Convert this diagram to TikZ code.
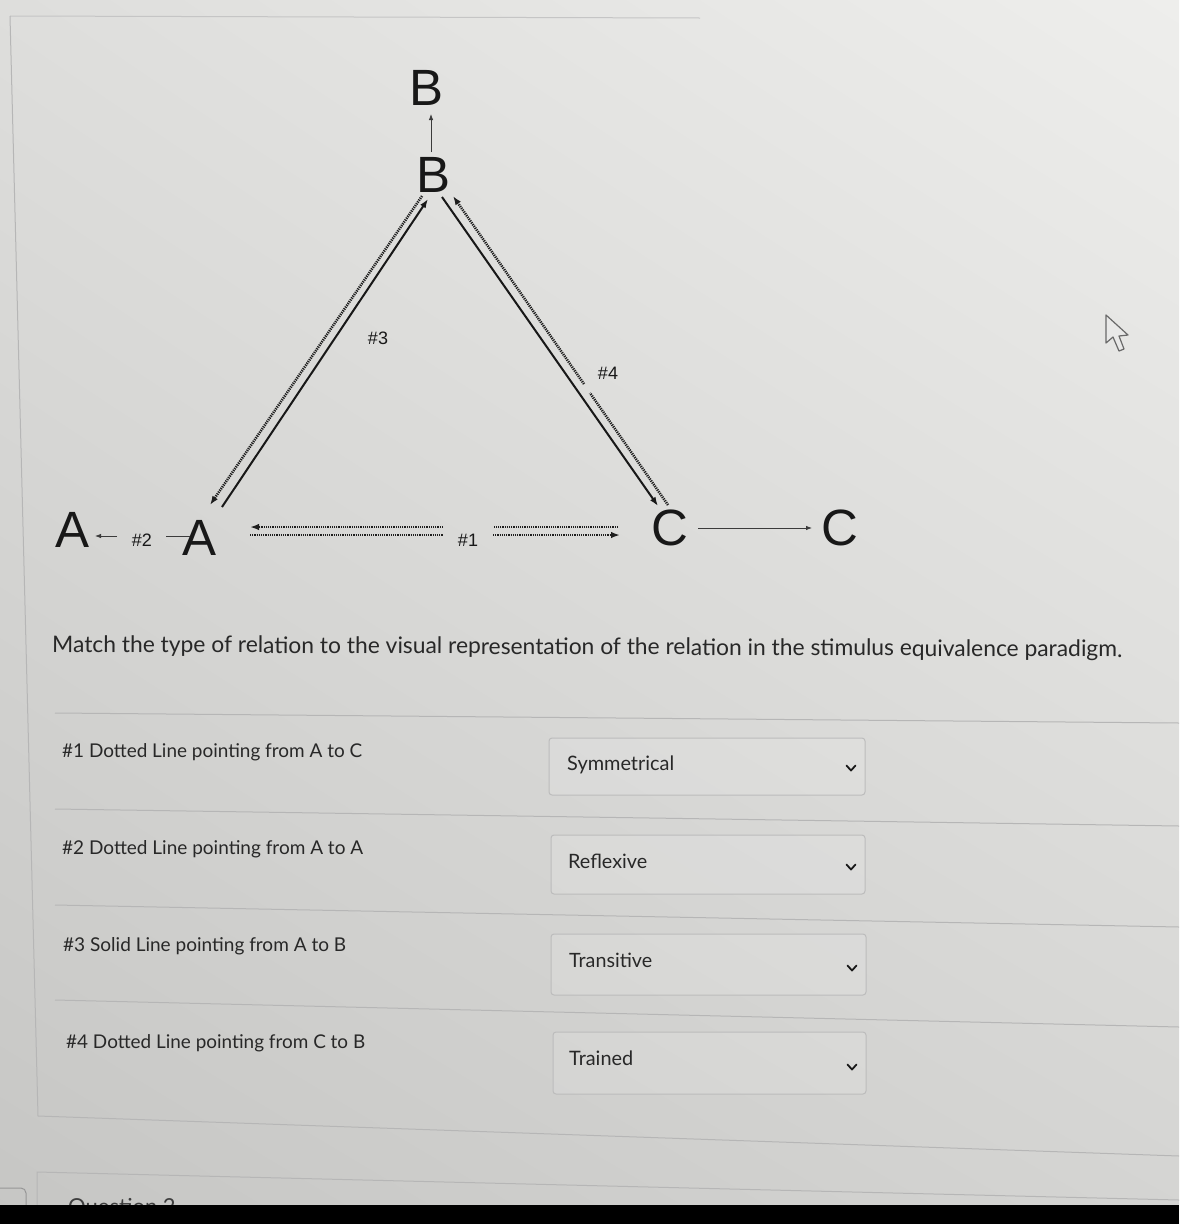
\documentclass[tikz,border=0pt]{standalone}
\usepackage{fontspec}
\setmainfont{Lato}
\newfontfamily\arialf{Liberation Sans}
\usetikzlibrary{arrows.meta,shadings}
\definecolor{bgUL}{RGB}{222,222,220}
\definecolor{bgUR}{RGB}{238,238,236}
\definecolor{bgLL}{RGB}{198,198,196}
\definecolor{bgLR}{RGB}{212,212,210}
\definecolor{ink}{RGB}{24,24,24}
\definecolor{txtg}{RGB}{40,40,40}
\definecolor{sepc}{RGB}{182,182,182}
\definecolor{boxc}{RGB}{188,188,188}
\definecolor{dotc}{RGB}{30,30,30}
\definecolor{curc}{RGB}{105,105,105}
\newcommand\fitw[2]{\resizebox{#1}{!}{#2}}
\begin{document}
\begin{tikzpicture}[x=1pt,y=-1pt,
  letter/.style={inner sep=0pt, text=ink, font=\arialf\fontsize{51}{58}\selectfont},
  lab/.style={inner sep=0pt, text=ink, font=\arialf\fontsize{18}{22}\selectfont},
  qtxt/.style={anchor=base west, inner sep=0pt, text=txtg},
  solidl/.style={draw=ink, line width=2pt, -{Latex[length=9pt,width=6.5pt]}},
  dotl/.style={draw=dotc, line width=2.6pt, dash pattern=on 1.2pt off 1pt},
  dota/.style={dotl, -{Latex[length=9pt,width=6.5pt]}},
  thinarrow/.style={draw=ink!85, line width=0.8pt, -{Latex[length=6pt,width=4.5pt]}},
  thinline/.style={draw=ink!85, line width=0.8pt},
  sepl/.style={draw=sepc, line width=1pt},
  ddbox/.style={draw=boxc, line width=1pt, rounded corners=3pt, fill=white, fill opacity=0.12},
  chev/.style={draw=ink, line width=1.8pt, line cap=round, line join=round}]
\useasboundingbox (0,0) rectangle (1179,1224);
% background
\shade[upper left=bgUL, upper right=bgUR, lower left=bgLL, lower right=bgLR] (0,0) rectangle (1179,1224);
% page frame lines
\draw[sepl, draw=sepc!80] (10,16) -- (700,18);
\draw[sepl] (10,16) -- (38,1116);
\draw[sepl] (55,713) -- (1179,723);
\draw[sepl] (55,809) -- (1179,826);
\draw[sepl] (55,905) -- (1179,927);
\draw[sepl] (55,1000) -- (1179,1027);
\draw[sepl] (38,1116) -- (1179,1156);
\draw[sepl] (37,1205) -- (37,1172) -- (1179,1200);
\draw[sepl, draw=curc!70, rounded corners=5pt] (-10,1188) -- (26,1188) -- (26,1215);

% diagram letters
\node[letter] (Btop) at (427,88) {B};
\node[letter] (Bmid) at (434,175) {B};
\node[letter] (Aleft) at (73,530) {A};
\node[letter] (Amid) at (200,538) {A};
\node[letter] (Cmid) at (670,528) {C};
\node[letter] (Cright) at (840,528) {C};
% labels
\node[lab] (h3) at (378,338) {\#3};
\node[lab] (h4) at (608,373) {\#4};
\node[lab] (h1) at (468,540) {\#1};
\node[lab] (h2) at (142,540) {\#2};

% reflexive arrows
\coordinate (bb1) at (431,152); \coordinate (bb2) at (431,114);
\draw[thinarrow] (bb1) -- (bb2);
\coordinate (aa1) at (190,536); \coordinate (aa2) at (166,536);
\coordinate (aa3) at (117,536); \coordinate (aa4) at (95,536);
\draw[thinline] (aa1) -- (aa2);
\draw[thinarrow] (aa3) -- (aa4);
\coordinate (cc1) at (698,528); \coordinate (cc2) at (812,528);
\draw[thinarrow] (cc1) -- (cc2);

% left side A-B
\coordinate (ls1) at (222,507); \coordinate (ls2) at (428,199);
\draw[solidl] (ls1) -- (ls2);
\coordinate (ld1) at (422,196); \coordinate (ld2) at (210,505);
\draw[dota] (ld1) -- (ld2);
% right side B-C
\coordinate (rs1) at (442,197); \coordinate (rs2) at (658,506);
\draw[solidl] (rs1) -- (rs2);
\coordinate (rd1) at (668,505); \coordinate (rd2) at (590,393);
\coordinate (rd3) at (584,384); \coordinate (rd4) at (453,196);
\draw[dotl] (rd1) -- (rd2);
\draw[dota] (rd3) -- (rd4);
% bottom A-C
\coordinate (bu1) at (443,527); \coordinate (bu2) at (250,527);
\coordinate (bl1) at (250,535); \coordinate (bl2) at (443,535);
\coordinate (bu3) at (618,527); \coordinate (bu4) at (493,527);
\coordinate (bl3) at (493,535); \coordinate (bl4) at (620,535);
\draw[dota] (bu1) -- (bu2);
\draw[dotl] (bl1) -- (bl2);
\draw[dotl] (bu3) -- (bu4);
\draw[dota] (bl3) -- (bl4);

% cursor
\draw[draw=curc, line width=1.2pt, line join=round, fill=white, fill opacity=0.15]
  (1106,315) -- (1106,343) -- (1113,337) -- (1119,351) -- (1124,349) -- (1119,336) -- (1128,335) -- cycle;

% question text
\node[qtxt, rotate=-0.27] (qmain) at (52,652) {\fitw{1070pt}{Match the type of relation to the visual representation of the relation in the stimulus equivalence paradigm.}};

\node[qtxt] (t1) at (62,757) {\fitw{300pt}{\#1 Dotted Line pointing from A to C}};
\node[qtxt] (t2) at (62,854) {\fitw{301pt}{\#2 Dotted Line pointing from A to A}};
\node[qtxt] (t3) at (63,951) {\fitw{283pt}{\#3 Solid Line pointing from A to B}};
\node[qtxt] (t4) at (66,1048) {\fitw{299pt}{\#4 Dotted Line pointing from C to B}};

% dropdowns
\draw[ddbox] (549,738) rectangle (865,795);
\draw[ddbox] (551,835) rectangle (865,894);
\draw[ddbox] (551,934) rectangle (866,995);
\draw[ddbox] (553,1032) rectangle (866,1094);
\node[qtxt] (d1) at (567,770) {\fitw{107pt}{Symmetrical}};
\node[qtxt] (d2) at (568,868) {\fitw{79pt}{Reflexive}};
\node[qtxt] (d3) at (569,967) {\fitw{83pt}{Transitive}};
\node[qtxt] (d4) at (569,1065) {\fitw{64pt}{Trained}};
\draw[chev] (846.5,765.5) -- (851,770.5) -- (855.5,765.5);
\draw[chev] (846.5,864.5) -- (851,869.5) -- (855.5,864.5);
\draw[chev] (847.5,965.5) -- (852,970.5) -- (856.5,965.5);
\draw[chev] (847.5,1064.5) -- (852,1069.5) -- (856.5,1064.5);

% next question (cut off)
\node[qtxt, font=\fontsize{22}{26}\selectfont, text=txtg!90] (q2) at (68,1214) {Question 2};
% black band
\fill[black] (0,1205) rectangle (1179,1224);
\end{tikzpicture}
\end{document}
